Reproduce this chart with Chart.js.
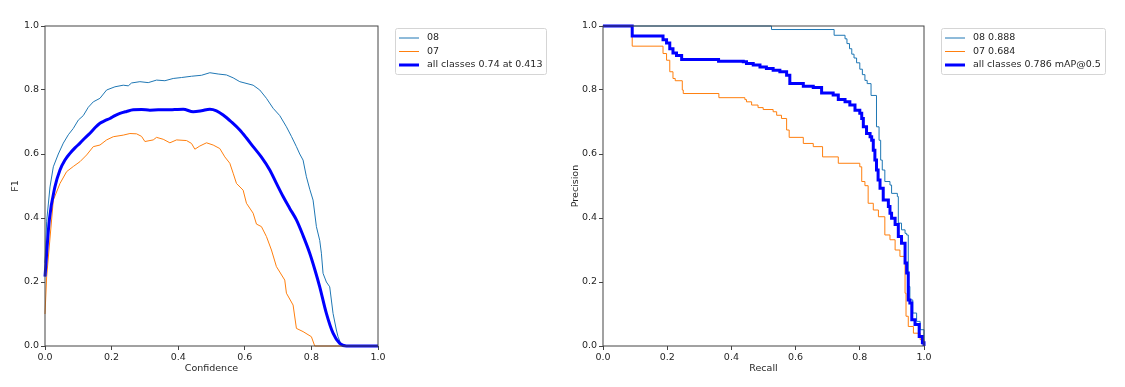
<!DOCTYPE html>
<html>
<head>
<meta charset="utf-8">
<script src="https://cdn.jsdelivr.net/npm/chart.js@4.4.0/dist/chart.umd.min.js"></script>
<style>
	body { margin: 0; background: #fff; }
	canvas { position: absolute; top: 0; }
</style>
</head>
<body>
<canvas id="f1Chart" width="560" height="387" style="left:0"></canvas>
<canvas id="prChart" width="565" height="387" style="left:560px"></canvas>
<script>
// F1 - confidence curve
const f1Conf08 = [0, 0.005, 0.015, 0.025, 0.04, 0.055, 0.07, 0.085, 0.1, 0.115, 0.13, 0.145, 0.165, 0.185, 0.21, 0.235, 0.25, 0.26, 0.285, 0.31, 0.335, 0.36, 0.385, 0.41, 0.44, 0.47, 0.495, 0.52, 0.545, 0.565, 0.585, 0.625, 0.645, 0.665, 0.685, 0.705, 0.725, 0.74, 0.755, 0.765, 0.775, 0.785, 0.795, 0.805, 0.815, 0.825, 0.83, 0.835, 0.845, 0.855, 0.865, 0.875, 0.88, 0.89, 0.9, 1.0]
const f1Val08 = [0.26, 0.39, 0.497, 0.56, 0.6, 0.634, 0.66, 0.68, 0.706, 0.72, 0.746, 0.763, 0.774, 0.8, 0.81, 0.815, 0.813, 0.822, 0.826, 0.823, 0.831, 0.829, 0.836, 0.839, 0.843, 0.846, 0.854, 0.85, 0.847, 0.838, 0.826, 0.815, 0.8, 0.774, 0.743, 0.72, 0.685, 0.655, 0.623, 0.6, 0.581, 0.529, 0.49, 0.456, 0.373, 0.33, 0.29, 0.227, 0.2, 0.185, 0.102, 0.05, 0.029, 0.003, 0, 0]

const f1Conf07 = [0, 0.005, 0.025, 0.045, 0.065, 0.085, 0.105, 0.125, 0.145, 0.165, 0.185, 0.205, 0.235, 0.255, 0.275, 0.29, 0.3, 0.325, 0.335, 0.355, 0.375, 0.395, 0.425, 0.44, 0.45, 0.465, 0.485, 0.505, 0.525, 0.54, 0.555, 0.565, 0.575, 0.595, 0.605, 0.625, 0.635, 0.65, 0.665, 0.68, 0.695, 0.72, 0.725, 0.745, 0.755, 0.775, 0.8, 0.81, 1.0]
const f1Val07 = [0.1, 0.217, 0.456, 0.508, 0.545, 0.561, 0.576, 0.597, 0.623, 0.628, 0.644, 0.654, 0.659, 0.664, 0.663, 0.655, 0.639, 0.644, 0.652, 0.646, 0.635, 0.644, 0.642, 0.633, 0.615, 0.625, 0.635, 0.628, 0.617, 0.591, 0.571, 0.54, 0.508, 0.487, 0.446, 0.415, 0.381, 0.373, 0.342, 0.3, 0.248, 0.206, 0.165, 0.128, 0.055, 0.045, 0.029, 0, 0]

const f1ConfAll = [0, 0.013, 0.03, 0.045, 0.06, 0.075, 0.09, 0.105, 0.12, 0.135, 0.15, 0.165, 0.18, 0.195, 0.21, 0.225, 0.245, 0.265, 0.29, 0.315, 0.34, 0.365, 0.39, 0.415, 0.445, 0.47, 0.495, 0.515, 0.535, 0.56, 0.585, 0.605, 0.625, 0.65, 0.675, 0.695, 0.715, 0.735, 0.755, 0.775, 0.795, 0.81, 0.825, 0.845, 0.865, 0.885, 0.905, 1.0]
const f1ValAll = [0.217, 0.394, 0.498, 0.55, 0.581, 0.602, 0.619, 0.634, 0.65, 0.665, 0.682, 0.696, 0.704, 0.711, 0.72, 0.727, 0.733, 0.738, 0.739, 0.737, 0.738, 0.738, 0.739, 0.74, 0.732, 0.735, 0.74, 0.735, 0.722, 0.7, 0.675, 0.65, 0.623, 0.59, 0.55, 0.508, 0.467, 0.43, 0.394, 0.345, 0.29, 0.24, 0.185, 0.102, 0.04, 0.008, 0, 0]

// precision - recall curve (each point starts a level)
const prRec08 = [0, 0.525, 0.72, 0.754, 0.76, 0.768, 0.775, 0.782, 0.79, 0.8, 0.808, 0.816, 0.823, 0.835, 0.852, 0.86, 0.865, 0.87, 0.878, 0.894, 0.899, 0.917, 0.92, 0.93, 0.941, 0.946, 0.951, 0.956, 0.965, 0.977, 0.988, 1]
const prPrec08 = [1, 0.989, 0.971, 0.96, 0.945, 0.929, 0.912, 0.9, 0.885, 0.865, 0.848, 0.83, 0.82, 0.783, 0.685, 0.643, 0.581, 0.55, 0.514, 0.503, 0.477, 0.467, 0.384, 0.363, 0.352, 0.347, 0.186, 0.144, 0.103, 0.077, 0.051, 0]

const prRec07 = [0, 0.091, 0.187, 0.198, 0.208, 0.218, 0.225, 0.247, 0.25, 0.361, 0.442, 0.447, 0.463, 0.483, 0.499, 0.53, 0.541, 0.556, 0.572, 0.58, 0.624, 0.655, 0.684, 0.733, 0.8, 0.806, 0.816, 0.826, 0.842, 0.858, 0.878, 0.894, 0.91, 0.925, 0.941, 0.944, 0.951, 0.967, 0.988, 1]
const prPrec07 = [1, 0.937, 0.914, 0.893, 0.857, 0.836, 0.829, 0.8, 0.789, 0.776, 0.77, 0.763, 0.753, 0.745, 0.739, 0.732, 0.721, 0.711, 0.675, 0.652, 0.633, 0.623, 0.591, 0.571, 0.56, 0.514, 0.501, 0.446, 0.425, 0.404, 0.347, 0.332, 0.3, 0.28, 0.165, 0.093, 0.061, 0.04, 0.02, 0]

const prRecAll = [0, 0.091, 0.187, 0.198, 0.208, 0.218, 0.229, 0.245, 0.36, 0.437, 0.447, 0.468, 0.489, 0.509, 0.53, 0.551, 0.572, 0.582, 0.624, 0.655, 0.681, 0.717, 0.733, 0.754, 0.769, 0.785, 0.8, 0.806, 0.811, 0.821, 0.832, 0.837, 0.842, 0.847, 0.852, 0.857, 0.863, 0.873, 0.889, 0.894, 0.899, 0.91, 0.92, 0.93, 0.941, 0.946, 0.951, 0.956, 0.962, 0.972, 0.985, 0.995, 1]
const prPrecAll = [1, 0.969, 0.957, 0.947, 0.929, 0.916, 0.908, 0.895, 0.89, 0.888, 0.883, 0.878, 0.872, 0.867, 0.862, 0.857, 0.846, 0.82, 0.812, 0.808, 0.791, 0.784, 0.77, 0.763, 0.753, 0.737, 0.727, 0.711, 0.685, 0.664, 0.654, 0.643, 0.612, 0.581, 0.55, 0.519, 0.493, 0.456, 0.436, 0.415, 0.399, 0.38, 0.342, 0.321, 0.259, 0.228, 0.144, 0.134, 0.082, 0.067, 0.03, 0.01, 0]

const f1Labels = ['08', '07', 'all classes 0.74 at 0.413']
const prLabels = ['08 0.888', '07 0.684', 'all classes 0.786 mAP@0.5']
const axisTicks = [0, 0.2, 0.4, 0.6, 0.8, 1.0]

Chart.defaults.font.family = '"DejaVu Sans", sans-serif'
Chart.defaults.font.size = 9.5
Chart.defaults.color = '#262626'

const toPoints = (xs, ys) => xs.map((x, i) => ({ x: x, y: ys[i] }))

// matplotlib style frame around the plot
const frame = {
	id: 'frame',
	afterDatasetsDraw(chart) {
		const { ctx, chartArea: a } = chart
		ctx.save()
		ctx.strokeStyle = '#444'
		ctx.lineWidth = 1
		ctx.strokeRect(a.left, a.top, a.right - a.left, a.bottom - a.top)
		ctx.restore()
	},
}

// legend box to the right of the plot
const boxLegend = {
	id: 'boxLegend',
	afterDraw(chart) {
		const ctx = chart.ctx
		const x = Math.round(chart.chartArea.right) + 17
		const y = 28
		const sets = chart.data.datasets
		ctx.save()
		ctx.font = '9.5px "DejaVu Sans"'
		const textW = Math.max(...sets.map((d) => ctx.measureText(d.label).width))
		const w = Math.round(4 + 20 + 8 + textW + 4)
		ctx.beginPath()
		ctx.roundRect(x + 0.5, y + 0.5, w, 46, 2)
		ctx.fillStyle = 'rgba(255,255,255,0.8)'
		ctx.fill()
		ctx.strokeStyle = '#d5d5d5'
		ctx.lineWidth = 1
		ctx.stroke()
		sets.forEach((d, i) => {
			const cy = y + 10 + i * 13.5
			ctx.beginPath()
			ctx.moveTo(x + 4, cy)
			ctx.lineTo(x + 24, cy)
			ctx.strokeStyle = d.borderColor
			ctx.lineWidth = d.borderWidth
			ctx.stroke()
			ctx.fillStyle = '#262626'
			ctx.textBaseline = 'middle'
			ctx.fillText(d.label, x + 32, cy)
		})
		ctx.restore()
	},
}

function axis(title, titlePad, fit) {
	return {
		type: 'linear',
		min: 0,
		max: 1,
		afterBuildTicks: (scale) => {
			scale.ticks = axisTicks.map((v) => ({ value: v }))
		},
		afterFit: fit,
		border: { display: false },
		grid: { drawOnChartArea: false, drawTicks: true, tickLength: 4, tickColor: '#444', tickWidth: 1 },
		ticks: { padding: 2, callback: (v) => v.toFixed(1) },
		title: { display: true, text: title, padding: titlePad },
	}
}

function makeChart(id, labels, series, stepped, rightPad, yWidth, xTitle, yTitle, yTitlePad) {
	const colors = ['#1f77b4', '#ff7f0e', 'blue']
	const ctx = document.getElementById(id).getContext('2d')
	return new Chart(ctx, {
		type: 'line',
		data: {
			datasets: series.map((s, i) => ({
				label: labels[i],
				data: toPoints(s[0], s[1]),
				borderColor: colors[i],
				borderWidth: i === 2 ? 3 : 1,
				pointRadius: 0,
				tension: 0,
				cubicInterpolationMode: !stepped && i === 2 ? 'monotone' : 'default',
				stepped: stepped,
				clip: 3,
				order: i === 2 ? -1 : i,
			})),
		},
		options: {
			responsive: false,
			animation: false,
			devicePixelRatio: 1,
			layout: { padding: { left: 0, top: 26, right: rightPad, bottom: 0 } },
			plugins: { legend: { display: false }, tooltip: { enabled: false } },
			scales: {
				x: axis(xTitle, { top: 0, bottom: 13 }, (scale) => { scale.height = 41 }),
				y: axis(yTitle, { top: yTitlePad, bottom: 0 }, (scale) => { scale.width = yWidth }),
			},
		},
		plugins: [frame, boxLegend],
	})
}

var f1Chart = makeChart('f1Chart', f1Labels, [[f1Conf08, f1Val08], [f1Conf07, f1Val07], [f1ConfAll, f1ValAll]], false, 182, 45, 'Confidence', 'F1', 10)
var prChart = makeChart('prChart', prLabels, [[prRec08, prPrec08], [prRec07, prPrec07], [prRecAll, prPrecAll]], true, 201, 43, 'Recall', 'Precision', 9.5)
</script>
</body>
</html>
